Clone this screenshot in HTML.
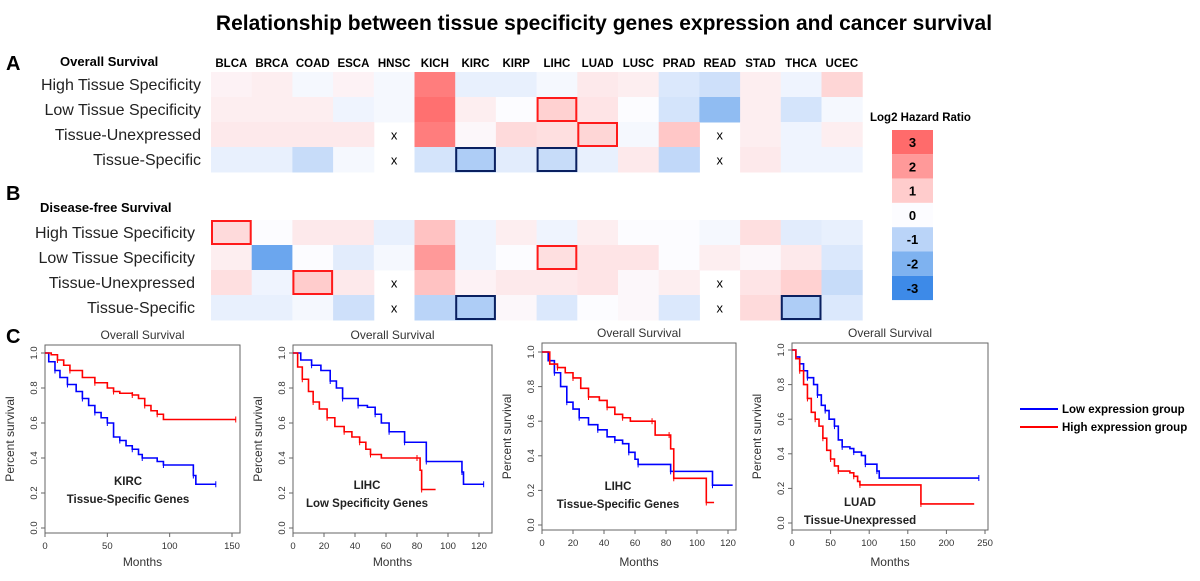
<!DOCTYPE html>
<html><head><meta charset="utf-8"><style>
body{margin:0;background:#fff;width:1200px;height:581px;overflow:hidden;font-family:"Liberation Sans",sans-serif}
svg{display:block}
</style></head><body>
<svg id="fig" width="1200" height="581" viewBox="0 0 1200 581">
<text x="604" y="30" text-anchor="middle" font-size="21" font-weight="bold" fill="#000">Relationship between tissue specificity genes expression and cancer survival</text>
<text x="6" y="70" font-size="20" font-weight="bold">A</text>
<text x="6" y="200" font-size="20" font-weight="bold">B</text>
<text x="6" y="343" font-size="20" font-weight="bold">C</text>
<text x="60" y="66" font-size="13" font-weight="bold">Overall Survival</text>
<text x="40" y="212" font-size="13" font-weight="bold">Disease-free Survival</text>
<g id="hm"></g>
<g id="leg"></g>
<g id="km"></g>
<g>
<line x1="1020" y1="409" x2="1058" y2="409" stroke="#0000ff" stroke-width="2"/>
<text x="1062" y="413" font-size="11.5" font-weight="bold">Low expression group</text>
<line x1="1020" y1="427" x2="1058" y2="427" stroke="#ff0000" stroke-width="2"/>
<text x="1062" y="431" font-size="11.5" font-weight="bold">High expression group</text>
</g>
</svg>
<script>
const cancers=["BLCA","BRCA","COAD","ESCA","HNSC","KICH","KIRC","KIRP","LIHC","LUAD","LUSC","PRAD","READ","STAD","THCA","UCEC"];
const rowLabels=["High Tissue Specificity","Low Tissue Specificity","Tissue-Unexpressed","Tissue-Specific"];
const osValues=[
[0.2,0.3,-0.1,0.2,-0.1,2.6,-0.3,-0.3,-0.1,0.4,0.3,-0.5,-0.7,0.3,-0.2,0.8],
[0.3,0.3,0.3,-0.2,-0.1,2.9,0.3,0,0.9,0.5,0,-0.6,-1.7,0.3,-0.6,-0.1],
[0.4,0.4,0.4,0.4,null,2.6,0.1,0.7,0.6,0.8,-0.1,1.1,null,0.3,-0.2,0.3],
[-0.3,-0.3,-0.8,-0.1,null,-0.6,-1.2,-0.4,-0.8,-0.3,0.4,-0.9,null,0.4,-0.2,-0.2]];
const dfsValues=[
[0.7,0,0.4,0.4,-0.3,1.2,-0.2,0.3,-0.2,0.3,0,0,-0.1,0.6,-0.4,-0.3],
[0.3,-2.3,0,-0.4,-0.1,2.0,-0.2,0,0.6,0.5,0.5,0,0.3,0.1,0.4,-0.5],
[0.6,-0.2,1.0,0.4,null,1.2,0.2,0.4,0.4,0.5,0.1,0.3,null,0.5,0.9,-0.8],
[-0.3,-0.3,-0.1,-0.7,null,-1.0,-1.2,0.1,-0.5,0,0.1,-0.5,null,0.7,-1.2,-0.5]];
const osHighlights=[[1,8,"red"],[2,9,"red"],[3,6,"blue"],[3,8,"blue"]];
const dfsHighlights=[[0,0,"red"],[1,8,"red"],[2,2,"red"],[3,6,"blue"],[3,14,"blue"]];
const legendValues=[3,2,1,0,-1,-2,-3];

const NS="http://www.w3.org/2000/svg";
function mk(tag,attrs,parent){const e=document.createElementNS(NS,tag);for(const k in attrs)e.setAttribute(k,attrs[k]);parent.appendChild(e);return e;}
const stops=[[-3,[61,138,232]],[-2,[126,178,240]],[-1,[186,212,248]],[0,[252,252,255]],[1,[255,204,204]],[2,[255,153,153]],[3,[255,107,107]]];
function color(v){v=Math.max(-3,Math.min(3,v));for(let i=0;i<stops.length-1;i++){const a=stops[i],b=stops[i+1];if(v<=b[0]){const t=(v-a[0])/(b[0]-a[0]);const c=a[1].map((x,j)=>Math.round(x+(b[1][j]-x)*t));return`rgb(${c})`;}}}
const X0=211,CW=40.7,RH=25;
const hm=document.getElementById('hm');
cancers.forEach((c,i)=>{const t=mk('text',{x:X0+CW*i+CW/2,y:67,'text-anchor':'middle','font-size':11.5,'font-weight':'bold'},hm);t.textContent=c;

});
function drawHeat(vals,hl,y0,labRight,name){
 const g=mk('g',{},hm);
 
 
 rowLabels.forEach((r,ri)=>{const t=mk('text',{x:labRight,y:y0+RH*ri+RH/2+5.5,'text-anchor':'end','font-size':16,fill:'#222'},g);t.textContent=r;
 
 
 vals[ri].forEach((v,ci)=>{const x=X0+CW*ci,y=y0+RH*ri;
  if(v===null){const tx=mk('text',{x:x+CW/2,y:y+RH/2+5,'text-anchor':'middle','font-size':13},g);tx.textContent='x';
   
   }
  else{const rc=mk('rect',{x:x,y:y,width:CW+0.5,height:RH+0.5,fill:color(v)},g);
   
   }});});
 hl.forEach(h=>{const b=mk('rect',{x:X0+CW*h[1]+1,y:y0+RH*h[0]+1,width:CW-2,height:RH-2,fill:'none',stroke:h[2]==='red'?'#ff1a1a':'#0a2060','stroke-width':2},g);
  
  });
}
drawHeat(osValues,osHighlights,72,201,'overall-survival-heatmap');
drawHeat(dfsValues,dfsHighlights,220,195,'disease-free-heatmap');
const leg=document.getElementById('leg');
const lt=mk('text',{x:870,y:121,'font-size':11.5,'font-weight':'bold'},leg);lt.textContent='Log2 Hazard Ratio';


legendValues.forEach((v,i)=>{const r=mk('rect',{x:892,y:130+24.3*i,width:41,height:24.3,fill:color(v)},leg);
 
 
 const t=mk('text',{x:912.5,y:130+24.3*i+17,'text-anchor':'middle','font-size':13,'font-weight':'bold'},leg);t.textContent=String(v);
 
 });

// KM data
const kircTicks=[0,50,100,150];
const kircHigh=[[0,1],[5,0.99],[10,0.96],[15,0.93],[20,0.9],[30,0.86],[40,0.83],[50,0.8],[55,0.78],[60,0.77],[70,0.76],[75,0.74],[80,0.7],[85,0.67],[90,0.65],[95,0.62],[153,0.62]];
const kircLow=[[0,1],[3,0.95],[8,0.9],[12,0.86],[18,0.82],[25,0.78],[30,0.74],[35,0.7],[40,0.66],[45,0.63],[50,0.6],[55,0.52],[60,0.5],[65,0.47],[70,0.45],[75,0.42],[78,0.4],[90,0.38],[95,0.36],[118,0.36],[119,0.3],[121,0.25],[137,0.25]];
const lihcLsTicks=[0,20,40,60,80,100,120];
const lihcLsHigh=[[0,1],[3,0.92],[6,0.85],[10,0.78],[13,0.72],[17,0.68],[22,0.63],[27,0.58],[33,0.55],[38,0.52],[43,0.49],[47,0.45],[50,0.42],[57,0.4],[80,0.4],[82,0.33],[83,0.22],[92,0.22]];
const lihcLsLow=[[0,1],[5,0.96],[12,0.93],[18,0.9],[24,0.84],[28,0.8],[32,0.74],[38,0.74],[42,0.7],[48,0.69],[53,0.65],[57,0.6],[62,0.55],[70,0.55],[72,0.49],[85,0.49],[86,0.38],[105,0.38],[109,0.32],[110,0.25],[123,0.25]];
const lihcTsTicks=[0,20,40,60,80,100,120];
const lihcTsHigh=[[0,1],[5,0.93],[10,0.91],[15,0.88],[20,0.85],[25,0.79],[30,0.74],[37,0.72],[42,0.68],[47,0.64],[52,0.62],[57,0.6],[71,0.6],[73,0.52],[82,0.52],[83,0.44],[85,0.27],[105,0.27],[106,0.13],[111,0.13]];
const lihcTsLow=[[0,1],[4,0.95],[8,0.88],[12,0.8],[16,0.71],[20,0.67],[24,0.62],[30,0.58],[36,0.55],[42,0.51],[47,0.49],[52,0.47],[56,0.42],[60,0.38],[62,0.35],[82,0.35],[83,0.31],[109,0.31],[110,0.23],[123,0.23]];
const luadTicks=[0,50,100,150,200,250];
const luadHigh=[[0,1],[5,0.95],[10,0.88],[15,0.8],[20,0.72],[25,0.64],[30,0.6],[35,0.56],[40,0.49],[45,0.42],[50,0.37],[55,0.33],[60,0.3],[75,0.29],[80,0.27],[85,0.24],[88,0.22],[166,0.22],[167,0.11],[236,0.11]];
const luadLow=[[0,1],[5,0.96],[10,0.92],[15,0.88],[20,0.84],[28,0.8],[33,0.74],[38,0.68],[43,0.65],[48,0.6],[55,0.56],[60,0.48],[65,0.44],[75,0.43],[80,0.41],[90,0.39],[95,0.34],[105,0.34],[110,0.3],[113,0.26],[242,0.26]];
const yTicks=[0,0.2,0.4,0.6,0.8,1.0];

const panels=[
 {name:'kirc',bx:45,bx2:240,by:345,by2:533,x0:45,x1:232,xmax:150,y1:353,y0:528,ticks:kircTicks,hi:kircHigh,lo:kircLow,l1:'KIRC',l2:'Tissue-Specific Genes',lx:128,ly:485},
 {name:'lihc-low-specificity',bx:293,bx2:492,by:345,by2:533,x0:293,x1:479,xmax:120,y1:353,y0:528,ticks:lihcLsTicks,hi:lihcLsHigh,lo:lihcLsLow,l1:'LIHC',l2:'Low Specificity Genes',lx:367,ly:489},
 {name:'lihc-tissue-specific',bx:542,bx2:736,by:343,by2:530,x0:542,x1:728,xmax:120,y1:352,y0:525,ticks:lihcTsTicks,hi:lihcTsHigh,lo:lihcTsLow,l1:'LIHC',l2:'Tissue-Specific Genes',lx:618,ly:490},
 {name:'luad',bx:792,bx2:988,by:343,by2:530,x0:792,x1:985,xmax:250,y1:350,y0:523,ticks:luadTicks,hi:luadHigh,lo:luadLow,l1:'LUAD',l2:'Tissue-Unexpressed',lx:860,ly:506}];
const km=document.getElementById('km');
panels.forEach(p=>{
 const g=mk('g',{},km);
 
 
 const sx=v=>p.x0+(p.x1-p.x0)*v/p.xmax, sy=v=>p.y0+(p.y1-p.y0)*v;
 mk('rect',{x:p.bx,y:p.by,width:p.bx2-p.bx,height:p.by2-p.by,fill:'none',stroke:'#666','stroke-width':1},g);
 const cx=(p.bx+p.bx2)/2;
 const t=mk('text',{x:cx,y:p.by-6,'text-anchor':'middle','font-size':12,fill:'#333'},g);t.textContent='Overall Survival';
 const m=mk('text',{x:cx,y:566,'text-anchor':'middle','font-size':12,fill:'#333'},g);m.textContent='Months';
 const ps=mk('text',{x:0,y:0,'text-anchor':'middle','font-size':12,fill:'#333',transform:`translate(${p.bx-31},${(p.by+p.by2)/2}) rotate(-90)`},g);ps.textContent='Percent survival';
 p.ticks.forEach(v=>{mk('line',{x1:sx(v),x2:sx(v),y1:p.by2,y2:p.by2+4,stroke:'#666'},g);
  const tt=mk('text',{x:sx(v),y:p.by2+16,'text-anchor':'middle','font-size':9.5,fill:'#333'},g);tt.textContent=String(v);});
 yTicks.forEach(v=>{mk('line',{x1:p.bx-4,x2:p.bx,y1:sy(v),y2:sy(v),stroke:'#666'},g);
  const tt=mk('text',{x:0,y:0,'text-anchor':'middle','font-size':9.5,fill:'#333',transform:`translate(${p.bx-8},${sy(v)}) rotate(-90)`},g);tt.textContent=v.toFixed(1);});
 [[p.lo,'#0000ff','low-expression-curve'],[p.hi,'#ff0000','high-expression-curve']].forEach(([d,c,n])=>{
  let s=`M${sx(d[0][0])},${sy(d[0][1])}`;
  for(let i=1;i<d.length;i++){s+=`H${sx(d[i][0])}V${sy(d[i][1])}`;}
  const path=mk('path',{d:s,fill:'none',stroke:c,'stroke-width':1.6},g);
  
  
  d.forEach((pt,i)=>{if(i>0&&i%2===0){mk('line',{x1:sx(pt[0]),x2:sx(pt[0]),y1:sy(pt[1])-3,y2:sy(pt[1])+3,stroke:c,'stroke-width':1},g);}});
 });
 const a1=mk('text',{x:p.lx,y:p.ly,'text-anchor':'middle','font-size':11.5,'font-weight':'bold',fill:'#222'},g);a1.textContent=p.l1;
 const a2=mk('text',{x:p.lx,y:p.ly+18,'text-anchor':'middle','font-size':11.5,'font-weight':'bold',fill:'#222'},g);a2.textContent=p.l2;
});
</script>
</body></html>
